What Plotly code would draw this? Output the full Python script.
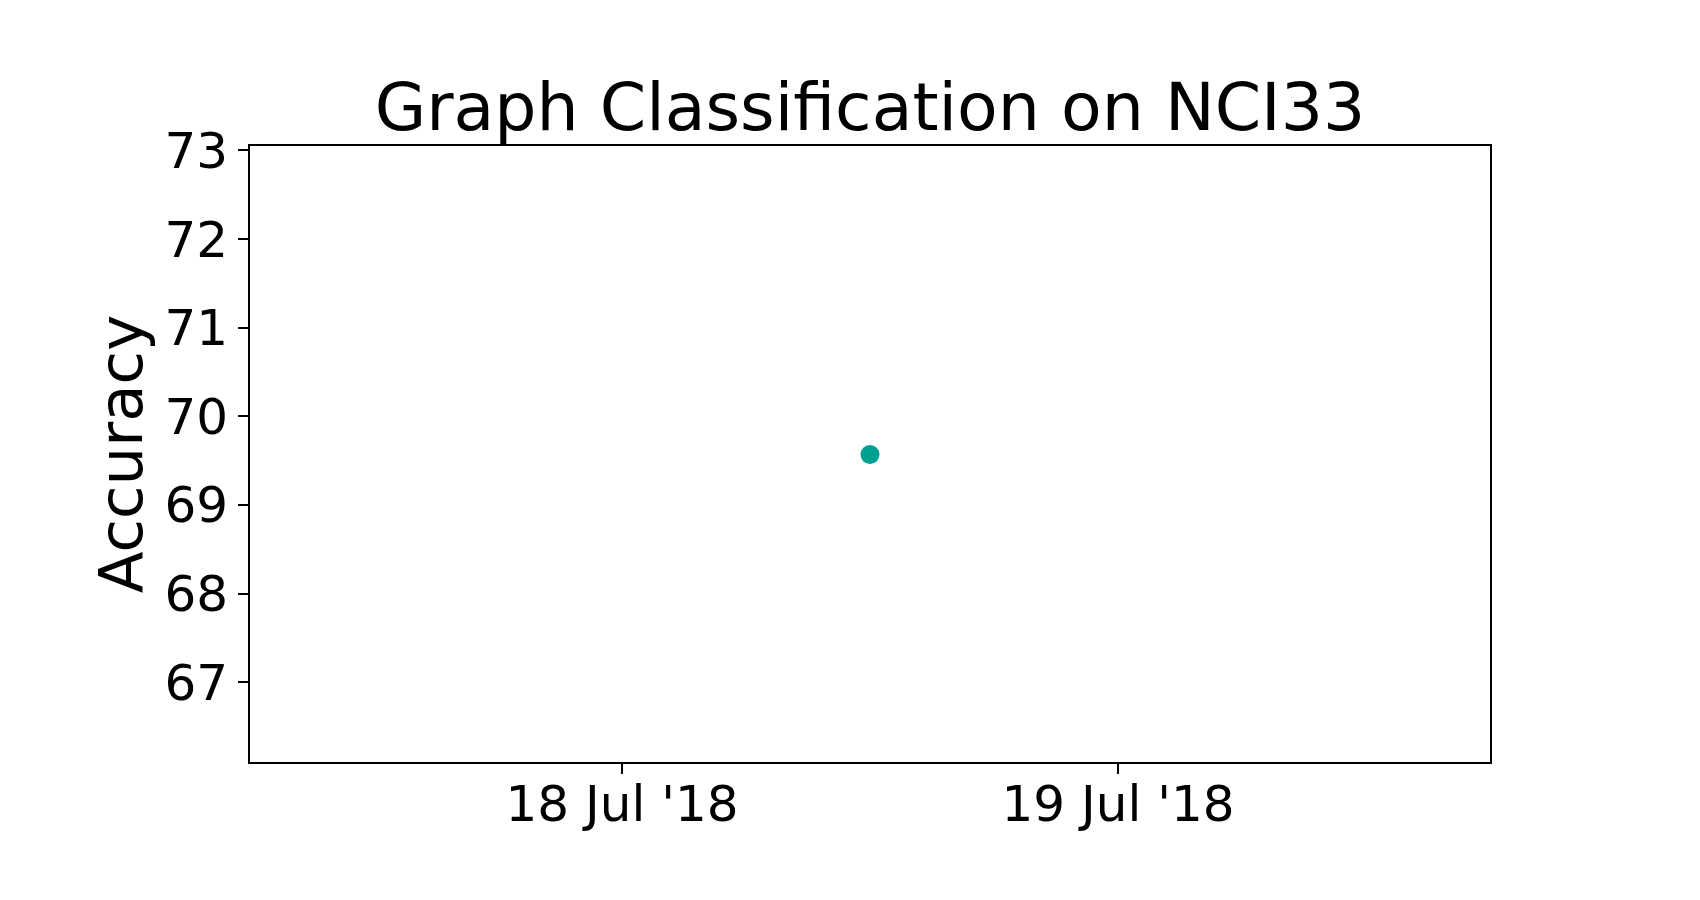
import plotly.graph_objects as go

# Data
dates = ["2018-07-18 12:00"]
accuracy = [69.57]
tick_dates = ["2018-07-18", "2018-07-19"]
tick_labels = ["18 Jul '18", "19 Jul '18"]
y_ticks = [67, 68, 69, 70, 71, 72, 73]

FONT = "DejaVu Sans"

fig = go.Figure()
fig.add_trace(go.Scatter(
    x=dates, y=accuracy, mode="markers",
    marker=dict(size=19, color="#00a091", line=dict(width=0)),
    showlegend=False,
))

# page body has an 8px default margin, so the figure is 8px smaller
fig.update_layout(
    width=1692, height=892,
    paper_bgcolor="white", plot_bgcolor="white",
    margin=dict(l=242, r=210, t=138, b=138, autoexpand=False),
    font=dict(family=FONT, color="black"),
    title=dict(
        text="Graph Classification on NCI33",
        font=dict(family=FONT, size=66.5, color="black"),
        x=0.5, xref="paper", xanchor="center",
        y=1, yref="paper", yanchor="bottom",
        pad=dict(b=16),
    ),
)

fig.update_xaxes(
    type="date",
    range=["2018-07-17 06:00", "2018-07-19 18:00"],
    tickvals=tick_dates, ticktext=tick_labels,
    ticks="outside", ticklen=10, tickwidth=2, tickcolor="black",
    showline=True, linewidth=2, linecolor="black", mirror=True,
    showgrid=False, zeroline=False,
    tickfont=dict(family=FONT, size=50, color="black"),
    ticklabelstandoff=-13,
)

fig.update_yaxes(
    range=[66.10, 73.05],
    tickvals=y_ticks,
    ticks="outside", ticklen=10, tickwidth=2, tickcolor="black",
    showline=True, linewidth=2, linecolor="black", mirror=True,
    showgrid=False, zeroline=False,
    tickfont=dict(family=FONT, size=50, color="black"),
    title=dict(text="Accuracy", font=dict(family=FONT, size=61, color="black"), standoff=2),
    automargin=False,
)

fig.write_html("out.html")
